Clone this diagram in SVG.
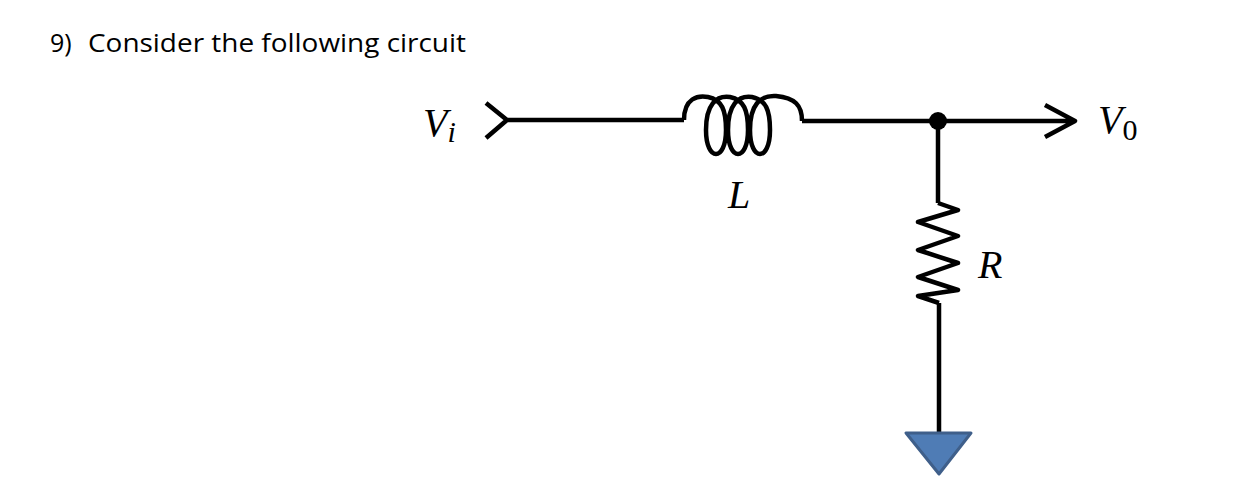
<svg xmlns="http://www.w3.org/2000/svg" width="1250" height="502" viewBox="0 0 1250 502">
<style>
.w{fill:none;stroke:#000;stroke-width:4.5;stroke-linejoin:round}
.m{font-family:"Liberation Serif",serif;font-style:italic;font-size:40px;fill:#000}
.t{font-family:"Open Sans","Liberation Sans",sans-serif;font-size:25px;fill:#000}
</style>
<rect width="1250" height="502" fill="#fff"/>
<text class="t" x="50" y="52">9)</text>
<text class="t" x="88" y="52" textLength="378" lengthAdjust="spacingAndGlyphs">Consider the following circuit</text>
<g id="connectors">
<path class="w" d="M486,103 L507,120 L486,138 M507,120 L684,120"/>
<path class="w" d="M802,121 L1075,121 M1045,105 L1075,121 L1045,137"/>
<path class="w" d="M938,121 L938,203"/>
<path class="w" d="M939,303 L939,434"/>
</g>
<g id="vi"><text class="m" x="423" y="136">V<tspan font-size="30" dy="6">i</tspan></text></g>
<g id="inductor">
<path class="w" d="M684,120 C684,98 698,95 708,97 C722,100 726,110 726,130 C726,162 706,162 706,130 C706,105 716,95 730,97 C744,100 748,110 748,130 C748,162 728,162 728,130 C728,105 738,95 752,97 C766,100 770,110 770,130 C770,162 750,162 750,130 C750,105 760,95 776,96 C795,98 802,105 802,121"/>
<text class="m" x="728" y="208">L</text>
</g>
<g id="node"><circle cx="938" cy="121" r="9" fill="#000"/></g>
<g id="resistor">
<path class="w" d="M938,203 L958,210 L918,222 L958,236 L918,250 L958,263 L918,277 L958,290 L918,296 L939,303"/>
<text class="m" x="978" y="278">R</text>
</g>
<g id="vo"><text class="m" x="1098" y="133">V<tspan font-style="normal" font-size="30" dy="7">0</tspan></text></g>
<g id="ground"><path d="M906,433 L971,433 L939,474 Z" fill="#4f7cb5" stroke="#3f5f8a" stroke-width="3" stroke-linejoin="round"/></g>
</svg>
